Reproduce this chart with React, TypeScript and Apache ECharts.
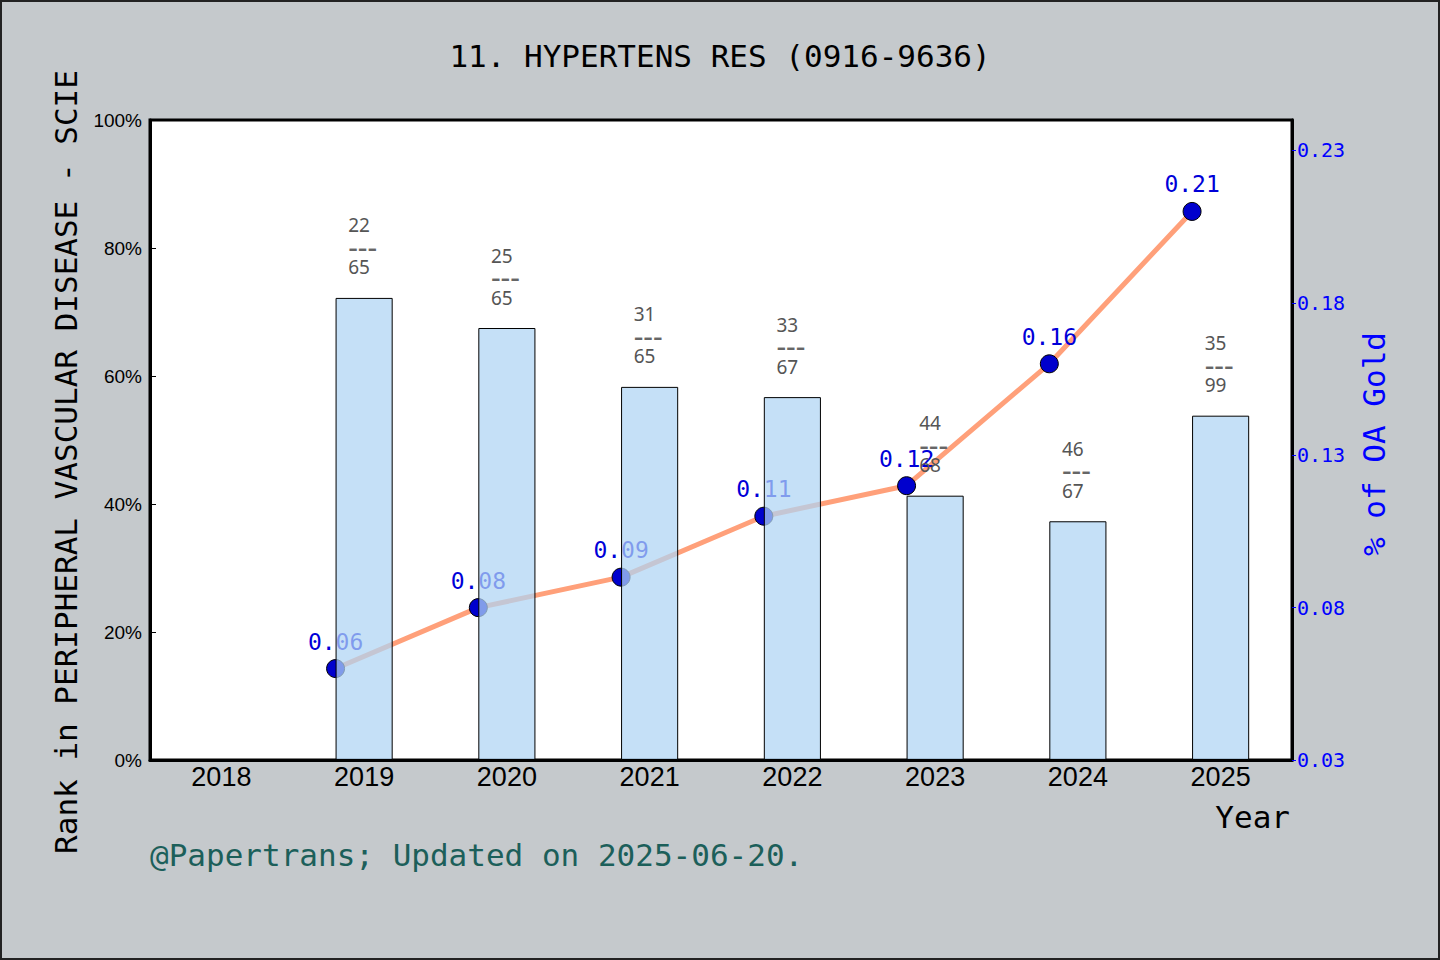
import { useEffect, useRef } from 'react'
import * as echarts from 'echarts'

const years = ['2018', '2019', '2020', '2021', '2022', '2023', '2024', '2025']
// rank bar height (%)
const rankPct = [null, 72.2, 67.5, 58.3, 56.7, 41.3, 37.3, 53.8]
const ranks = [null, 22, 25, 31, 33, 44, 46, 35]
const totals = [null, 65, 65, 65, 67, 68, 67, 99]
// % of OA Gold
const oaGold = [null, 0.06, 0.08, 0.09, 0.11, 0.12, 0.16, 0.21]

const leftAxis = { min: 0, max: 100, interval: 20 }
const rightAxis = { min: 0.03, max: 0.24, interval: 0.05 }

const BAR_WIDTH = 0.4 // fraction of a category
const MONO = "'DejaVu Sans Mono', monospace"
const SANS = "'Liberation Sans', Arial, sans-serif"

export default function App() {
  const chartRef = useRef<HTMLDivElement>(null)

  useEffect(() => {
    document.body.style.margin = '0'
    if (!chartRef.current) return
    const chart = echarts.init(chartRef.current, null, { renderer: 'svg' })

    // the line sits on the left edge of each bar
    const linePoints = oaGold
      .map((v, i) => (v == null ? null : [i - BAR_WIDTH / 2, v]))
      .filter((p) => p != null)

    const option: any = {
      animation: false,
      backgroundColor: '#c5c9cc',
      title: {
        text: '11. HYPERTENS RES (0916-9636)',
        left: 'center',
        top: 35,
        textStyle: { fontFamily: MONO, fontSize: 31, fontWeight: 'normal', color: '#000' },
      },
      grid: {
        left: 150,
        right: 148,
        top: 120,
        bottom: 200,
        show: true,
        backgroundColor: '#fff',
        borderColor: '#000',
        borderWidth: 3,
      },
      xAxis: [
        {
          type: 'category',
          data: years,
          boundaryGap: true,
          axisLine: { onZero: false, lineStyle: { color: '#000', width: 3 } },
          axisTick: { inside: true, length: 6, lineStyle: { color: '#000', width: 1 } },
          axisLabel: { color: '#000', fontSize: 27, fontFamily: SANS, margin: 3 },
        },
        {
          type: 'value',
          min: -0.5,
          max: years.length - 0.5,
          show: false,
        },
      ],
      yAxis: [
        {
          type: 'value',
          min: leftAxis.min,
          max: leftAxis.max,
          interval: leftAxis.interval,
          axisLine: { show: true, onZero: false, lineStyle: { color: '#000', width: 3 } },
          axisTick: { show: true, inside: true, length: 6, lineStyle: { color: '#000', width: 1 } },
          axisLabel: { color: '#000', fontSize: 19, fontFamily: SANS, margin: 8, formatter: '{value}%' },
          splitLine: { show: false },
        },
        {
          type: 'value',
          position: 'right',
          min: rightAxis.min,
          max: rightAxis.max,
          interval: rightAxis.interval,
          axisLine: { show: true, onZero: false, lineStyle: { color: '#000', width: 3 } },
          axisTick: { show: true, length: 4, lineStyle: { color: '#0000ff', width: 1 } },
          axisLabel: {
            color: '#0000ff',
            fontSize: 20,
            fontFamily: MONO,
            margin: 5,
            showMaxLabel: false,
            formatter: (v: number) => v.toFixed(2),
          },
          splitLine: { show: false },
        },
      ],
      series: [
        {
          name: 'OA Gold',
          type: 'line',
          xAxisIndex: 1,
          yAxisIndex: 1,
          z: 2,
          data: linePoints,
          symbol: 'circle',
          symbolSize: 18,
          lineStyle: { color: '#ffa07a', width: 5 },
          itemStyle: { color: '#0000cd', borderColor: '#000', borderWidth: 1 },
          label: {
            show: true,
            position: 'top',
            distance: 6,
            color: '#0000d8',
            fontSize: 23,
            fontFamily: MONO,
            formatter: (p: any) => Number(p.value[1]).toFixed(2),
          },
        },
        {
          name: 'Rank',
          type: 'bar',
          xAxisIndex: 0,
          yAxisIndex: 0,
          z: 3,
          barWidth: `${BAR_WIDTH * 100}%`,
          data: rankPct,
          itemStyle: { color: 'rgba(175,212,244,0.73)', borderColor: '#000', borderWidth: 1 },
          label: {
            show: true,
            position: 'top',
            distance: 20,
            align: 'left',
            offset: [-16, 0],
            formatter: (p: any) =>
              ranks[p.dataIndex] == null ? '' : `{n|${ranks[p.dataIndex]}}\n{d|---}\n{n|${totals[p.dataIndex]}}`,
            rich: {
              n: { fontSize: 19, fontFamily: "'Noto Sans', sans-serif", color: '#555', lineHeight: 21 },
              d: { fontSize: 30, fontFamily: "'Noto Sans', sans-serif", color: '#666', lineHeight: 21 },
            },
          },
        },
      ],
      graphic: [
        {
          type: 'rect',
          shape: { x: 1, y: 1, width: 1438, height: 958 },
          style: { fill: 'none', stroke: '#222', lineWidth: 2 },
          silent: true,
        },
        {
          type: 'text',
          x: 66,
          y: 462,
          rotation: Math.PI / 2,
          style: {
            text: 'Rank in PERIPHERAL VASCULAR DISEASE - SCIE',
            fontFamily: MONO,
            fontSize: 31,
            fill: '#000',
            align: 'center',
            verticalAlign: 'middle',
          },
        },
        {
          type: 'text',
          x: 1374,
          y: 444,
          rotation: Math.PI / 2,
          style: {
            text: '% of OA Gold',
            fontFamily: MONO,
            fontSize: 31,
            fill: '#0000ff',
            align: 'center',
            verticalAlign: 'middle',
          },
        },
        {
          type: 'text',
          x: 1290,
          y: 817,
          style: {
            text: 'Year',
            fontFamily: MONO,
            fontSize: 31,
            fill: '#000',
            align: 'right',
            verticalAlign: 'middle',
          },
        },
        {
          type: 'text',
          x: 150,
          y: 855,
          style: {
            text: '@Papertrans; Updated on 2025-06-20.',
            fontFamily: MONO,
            fontSize: 31,
            fill: '#1c5f5a',
            align: 'left',
            verticalAlign: 'middle',
          },
        },
      ],
    }

    chart.setOption(option)

    return () => {
      chart.dispose()
    }
  }, [])

  return <div ref={chartRef} style={{ width: '1440px', height: '960px' }} />
}
